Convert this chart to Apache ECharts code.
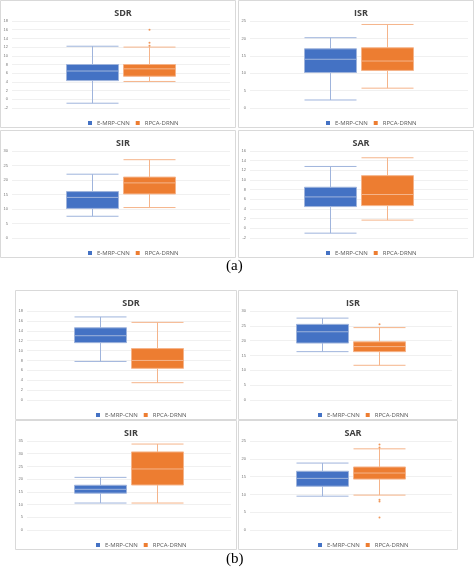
<!DOCTYPE html>
<html><head><meta charset="utf-8">
<script src="https://cdn.jsdelivr.net/npm/echarts@6/dist/echarts.min.js"></script>
<style>html,body{margin:0;padding:0;background:#fff}#c{width:474px;height:572px}</style>
</head><body><div id="c"></div>
<script>
// names and boxes: [min, Q1, median, Q3, max]
var seriesNames = ['E-MRP-CNN', 'RPCA-DRNN'];
var panelTitles = ['SDR', 'ISR', 'SIR', 'SAR', 'SDR', 'ISR', 'SIR', 'SAR'];
var yMin = [-2, 0, 0, -2, 0, 0, 0, 0];
var yMax = [18, 25, 30, 16, 18, 30, 35, 25];
var yStep = [2, 5, 5, 2, 2, 5, 5, 5];
var blueBoxes = [
  [-0.9, 4.3, 6.5, 8.0, 12.2],
  [2.3, 10.2, 14.0, 17.0, 20.2],
  [7.5, 10.2, 14.0, 16.0, 22.0],
  [-1.0, 4.5, 6.5, 8.5, 12.8],
  [7.8, 11.6, 13.0, 14.6, 16.8],
  [16.3, 19.2, 23.0, 25.5, 27.6],
  [10.6, 14.5, 16.0, 17.6, 20.7],
  [9.5, 12.3, 14.5, 16.5, 18.8]
];
var orangeBoxes = [
  [4.1, 5.3, 7.0, 8.0, 12.0],
  [5.7, 10.8, 13.5, 17.3, 24.0],
  [10.5, 15.2, 19.0, 21.0, 27.0],
  [1.7, 4.7, 7.0, 10.9, 14.6],
  [3.5, 6.4, 8.0, 10.4, 15.7],
  [11.7, 16.3, 18.0, 19.6, 24.4],
  [10.6, 17.7, 24.0, 30.7, 33.8],
  [9.8, 14.3, 16.0, 17.7, 22.8]
];
var orangeOutliers = [
  [12.3, 13.0, 16.0], [], [], [],
  [], [25.5], [], [23.2, 24.0, 8.5, 8.0, 3.5]
];

// panel rectangles [x, y, w, h]
var panels = [
  [0, 0, 236, 128], [238, 0, 236, 128], [0, 130, 236, 128], [238, 130, 236, 128],
  [15, 290, 222, 130], [238, 290, 220, 130], [15, 420, 222, 130], [238, 420, 220, 130]
];

var BLUE = '#4472C4', ORANGE = '#ED7D31';
var grid = [], xAxis = [], yAxis = [], series = [], title = [], legend = [], graphic = [];

panels.forEach(function(p, i) {
  var left = p[0] + 12, right = p[0] + p[2] - 6;
  var top = p[1] + 21, bottom = p[1] + p[3] - 20;
  var cx = (left + right) / 2;
  graphic.push({type: 'rect', shape: {x: p[0] + 0.5, y: p[1] + 0.5, width: p[2] - 1, height: p[3] - 1},
    style: {fill: '#fff', stroke: '#d9d9d9', lineWidth: 1}, z: -10});
  title.push({text: panelTitles[i], left: p[0] + p[2] / 2, top: p[1] + 4, textAlign: 'center',
    textStyle: {fontSize: 9, fontWeight: 'bold', color: '#404040', fontFamily: 'Open Sans'}});
  legend.push({data: seriesNames.slice(), left: 'center', top: p[1] + p[3] - 13,
    orient: 'horizontal', icon: 'rect', itemWidth: 4, itemHeight: 4, itemGap: 6,
    textStyle: {fontSize: 6, color: '#595959', fontFamily: 'Open Sans'},
    left: cx - 38});
  // background grid with gridlines and labels
  var bg = grid.length;
  grid.push({left: left, top: top, width: right - left, height: bottom - top});
  xAxis.push({type: 'category', gridIndex: bg, data: [''], show: false});
  yAxis.push({type: 'value', gridIndex: bg, min: yMin[i], max: yMax[i], interval: yStep[i],
    axisLine: {show: false}, axisTick: {show: false},
    axisLabel: {fontSize: 4, color: '#777', margin: 4},
    splitLine: {lineStyle: {color: '#e6e6e6', width: 0.6}}});
  // narrow foreground grid holding the two boxes
  var fg = grid.length;
  grid.push({left: cx - 57, top: top, width: 114, height: bottom - top});
  xAxis.push({type: 'category', gridIndex: fg, data: seriesNames.slice(), show: false});
  yAxis.push({type: 'value', gridIndex: fg, min: yMin[i], max: yMax[i], show: false, splitLine: {show: false}});
  seriesNames.forEach(function(n, k) {
    series.push({type: 'bar', name: n, xAxisIndex: bg, yAxisIndex: bg, data: [],
      itemStyle: {color: k ? ORANGE : BLUE}});
  });
  series.push({type: 'boxplot', xAxisIndex: fg, yAxisIndex: fg, boxWidth: [52, 52],
    data: [
      {value: blueBoxes[i], itemStyle: {color: BLUE, borderColor: '#9fb4dc', borderWidth: 1}},
      {value: orangeBoxes[i], itemStyle: {color: ORANGE, borderColor: '#f5b48a', borderWidth: 1}}
    ]});
  series.push({type: 'scatter', xAxisIndex: fg, yAxisIndex: fg, symbolSize: 2,
    itemStyle: {color: ORANGE},
    data: orangeOutliers[i].map(function(v) { return [1, v]; })});
});

graphic.push({type: 'text', left: 226, top: 259, style: {text: '(a)', fontSize: 15, fontFamily: 'Liberation Serif', fill: '#000'}});
graphic.push({type: 'text', left: 226, top: 552, style: {text: '(b)', fontSize: 15, fontFamily: 'Liberation Serif', fill: '#000'}});

var chart = echarts.init(document.getElementById('c'));
chart.setOption({animation: false, title: title, legend: legend, grid: grid,
  xAxis: xAxis, yAxis: yAxis, series: series, graphic: graphic});
</script>
</body></html>
